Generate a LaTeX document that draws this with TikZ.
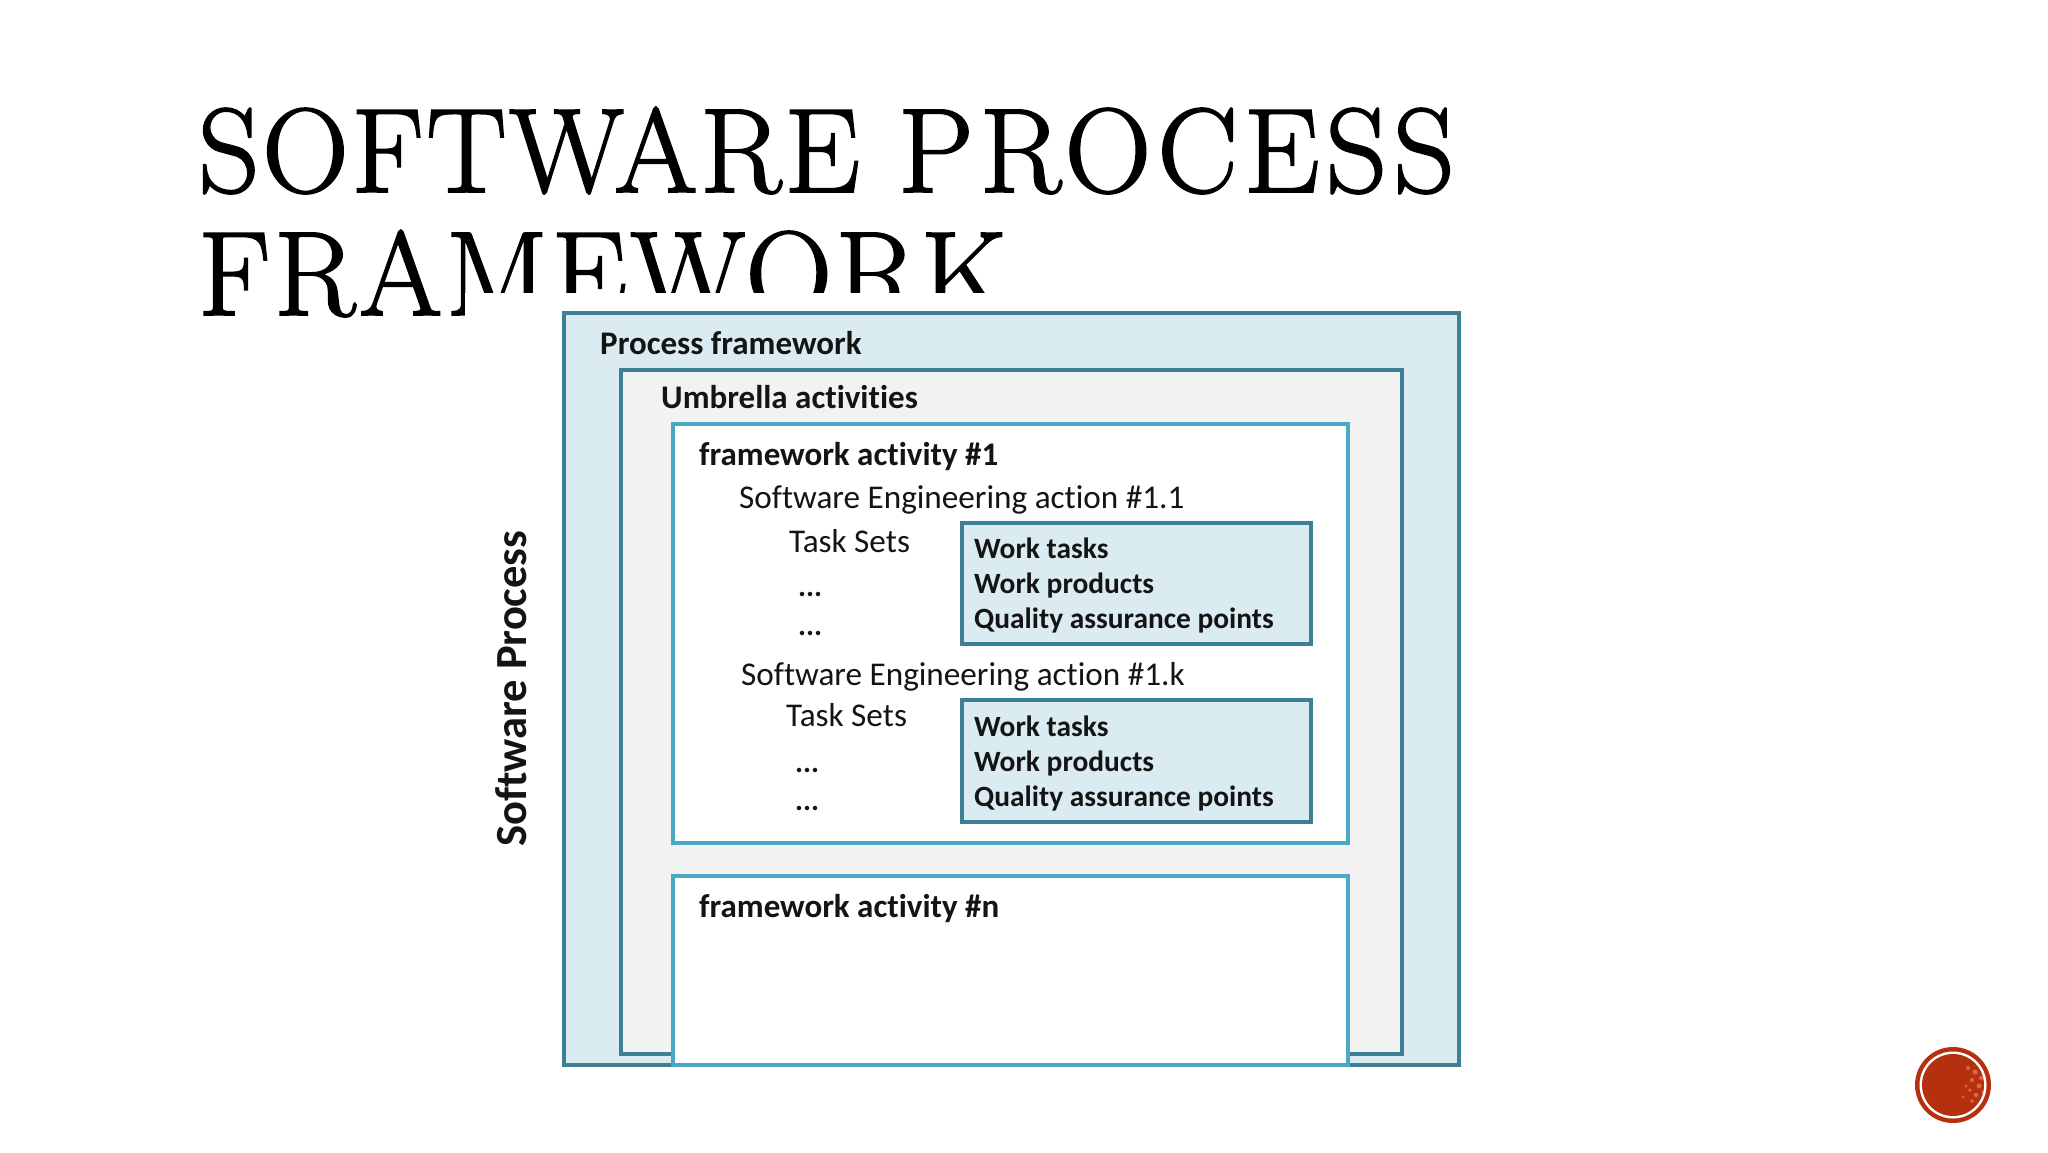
\documentclass[tikz,border=0pt]{standalone}
\usepackage{fontspec}
\setmainfont{Carlito}[Ligatures=NoCommon]
\newfontfamily\titlefont[LetterSpace=3.0,FakeBold=1.6]{Latin Modern Roman}
\newfontfamily\titlefontA[LetterSpace=2.3,FakeBold=1.6]{Latin Modern Roman}
\newfontfamily\titlefontB[LetterSpace=5.3,FakeBold=1.6]{Latin Modern Roman}
\definecolor{tealdark}{HTML}{3D7F94}
\definecolor{tealmid}{HTML}{4BA8C4}
\definecolor{palefill}{HTML}{DAEBF2}
\definecolor{greyfill}{HTML}{F2F2F2}
\definecolor{disc}{HTML}{B5300F}
\definecolor{discspot}{HTML}{E0664A}
\tikzset{
  lbl/.style={anchor=base west,inner sep=0pt,text=black!92},
  boldlbl/.style={lbl,font=\fontsize{33}{38}\selectfont\bfseries},
  plainlbl/.style={lbl,font=\fontsize{33.2}{38}\selectfont},
  dotlbl/.style={lbl,font=\fontsize{30}{36}\selectfont\bfseries},
  smalllbl/.style={lbl,font=\fontsize{29.4}{34}\selectfont\bfseries},
  titlelbl/.style={anchor=base west,inner sep=0pt,text=black},
  outerbox/.style={draw=tealdark,line width=3.5pt,fill=palefill},
  umbbox/.style={draw=tealdark,line width=3.5pt,fill=greyfill},
  actbox/.style={draw=tealmid,line width=3.5pt,fill=white},
  innerbox/.style={draw=tealdark,line width=3.5pt,fill=palefill}
}
\begin{document}
\begin{tikzpicture}[x=1pt,y=-1pt]
\useasboundingbox (0,0) rectangle (2048,1152);
\fill[white] (0,0) rectangle (2048,1152);
% title
\node[titlelbl,font=\fontsize{120}{130}\titlefontA] (t1) at (198,192) {SOFTWARE};
\node[titlelbl,font=\fontsize{120}{130}\titlefontB] (t1b) at (898,192) {PROCESS};
\node[titlelbl,font=\fontsize{120}{130}\titlefont] (t2) at (198,315) {FRAMEWORK};
\fill[white] (465,293) rectangle (1100,330);
% nested boxes
\draw[outerbox] (564,313) rectangle (1459,1065);
\draw[umbbox] (621,370) rectangle (1402,1054);
\draw[actbox] (673,424) rectangle (1348,843);
\draw[actbox] (673,876) rectangle (1348,1065);
\draw[innerbox] (962,523) rectangle (1311,644);
\draw[innerbox] (962,700) rectangle (1311,822);
% labels
\node[boldlbl] (pf) at (600,354) {Process framework};
\node[boldlbl] (ua) at (661,408) {Umbrella activities};
\node[boldlbl] (fa1) at (699,465) {framework activity \#1};
\node[boldlbl] (fan) at (699,917) {framework activity \#n};
\node[plainlbl] (se1) at (739,508) {Software Engineering action \#1.1};
\node[plainlbl] (ts1) at (789,552) {Task Sets};
\node[dotlbl] (d1) at (798,596) {...};
\node[dotlbl] (d2) at (798,635) {...};
\node[plainlbl] (se2) at (741,685) {Software Engineering action \#1.k};
\node[plainlbl] (ts2) at (786,726) {Task Sets};
\node[dotlbl] (d3) at (795,772) {...};
\node[dotlbl] (d4) at (795,810) {...};
\node[smalllbl] (w1) at (974,558) {Work tasks};
\node[smalllbl] (p1) at (974,593) {Work products};
\node[smalllbl] (q1) at (974,628) {Quality assurance points};
\node[smalllbl] (w2) at (974,736) {Work tasks};
\node[smalllbl] (p2) at (974,771) {Work products};
\node[smalllbl] (q2) at (974,806) {Quality assurance points};
\node[lbl,rotate=90,font=\fontsize{44.5}{50}\selectfont\bfseries] (sp) at (526,847) {Software Process};
% disc
\fill[disc] (1953,1085) circle (38);
\fill[white] (1953,1085) circle (33.5);
\fill[disc] (1953,1085) circle (31);
\begin{scope}
\clip (1953,1085) circle (31);
\foreach \px/\py/\pr in {1968/1068/2,1975/1072/2.5,1981/1078/2,1972/1080/2,1979/1086/2.5,1970/1090/1.8,1976/1095/2.2,1966/1086/1.6,1983/1092/1.8,1972/1101/1.8,1963/1097/1.5,1980/1068/1.6}
  \fill[discspot] (\px,\py) circle (\pr);
\end{scope}
\end{tikzpicture}
\end{document}
